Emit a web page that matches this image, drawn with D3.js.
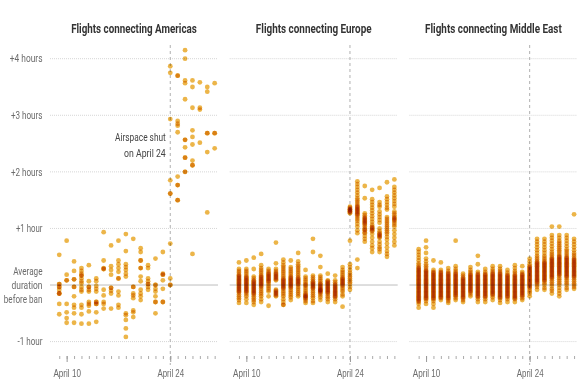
<!DOCTYPE html>
<html><head><meta charset="utf-8">
<script src="https://cdn.jsdelivr.net/npm/d3@7"></script>
<style>
body{margin:0;background:#fff;}
svg{display:block;font-family:Roboto,"Liberation Sans",sans-serif;}
</style></head><body>
<svg id="c" width="585" height="390"></svg>
<script>
// ---- data (minutes relative to average duration before ban) ----
const days = [9,10,11,12,13,14,15,16,17,18,19,20,21,22,23,24,25,26,27,28,29,30];
const panelTitles = ["Flights connecting Americas","Flights connecting Europe","Flights connecting Middle East"];
const hourTicks = [-1,1,2,3,4];
const hourLabels = ["-1 hour","+1 hour","+2 hours","+3 hours","+4 hours"];
const zeroLabel = ["Average","duration","before ban"];
const dateTicks = [10,24];
const dateLabels = ["April 10","April 24"];
const banDay = 24;
const annotation = ["Airspace shut","on April 24"];

const americas = [
  [32,1,1,-2,-2,-5,-9,-9,-9,-20,-31],
  [47,11,5,5,-20,-29,-35,-40],
  [25,15,6,6,-2,-2,-12,-21,-24,-30,-40],
  [18,15,12,10,10,7,4,2,-2,-5,-7,-21,-24,-31,-41],
  [21,4,-2,-2,-5,-7,-18,-20,-22,-28,-41],
  [7,4,-1,-4,-7,-18,-18,-20,-20,-29,-39],
  [56,26,18,17,17,-5,-11,-18,-20,-25],
  [42,20,16,11,-3,-3,-6,-9,-25],
  [47,26,22,18,14,7,7,-7,-11,-21,-24],
  [54,36,22,19,16,12,9,-30,-32,-37,-46,-55],
  [49,-2,-2,-9,-11,-14,-27,-29,-34],
  [39,35,26,26,18,18,9,4,-5,-9,-12,-16],
  [21,18,7,4,1,1,-2,-5],
  [28,0,0,-4,-7,-12,-18,-18,-30],
  [35,12,11,11,5,-4,-18,-18],
  [232,225,176,111,97,97,44,7,0,0],
  [222,222,174,171,169,162,115,106,106,90,90],
  [249,240,217,214,197,154,154,146,135,135,120,120],
  [217,210,188,164,157,149,132,127,127,33],
  [215,188,186,151],
  [210,205,161,161,141,77],
  [214,161,161,145]
];

const europe = [
  [24,17,15,13,11,10,9,8,7,6,5,4,3,2,1,0,-1,-2,-3,-4,-5,-6,-7,-8,-10,-12,-14,-16,-19],
  [26,17,15,13,11,9,8,7,6,5,4,3,2,1,0,-1,-2,-3,-4,-5,-6,-7,-8,-10,-12,-15,-19],
  [29,17,9,7,5,4,3,2,1,0,-1,-2,-3,-4,-5,-6,-7,-8,-9,-10,-12,-14,-16,-18,-21],
  [33,21,18,16,14,12,10,9,8,7,6,5,4,3,2,1,0,-1,-2,-4,-6,-8,-10,-12,-15,-18],
  [17,15,13,12,11,10,9,8,7,6,5,4,3,1,-1,-3,-5,-7,-12,-22],
  [45,23,17,15,13,12,11,10,9,8,7,6,5,-5,-6,-7,-8,-9,-10,-11,-12],
  [27,24,21,19,17,15,13,11,9,7,6,5,4,3,2,1,0,-1,-2,-3,-4,-6,-8,-10,-12,-15,-18,-21,-21],
  [26,19,17,15,13,11,9,8,7,6,5,4,3,2,1,0,-1,-2,-3,-5,-7,-9,-11,-13,-16],
  [34,25,22,20,18,16,14,12,10,8,7,6,5,4,3,2,1,0,-2,-4,-6,-8,-10,-12],
  [16,9,7,5,3,1,0,-1,-3,-5,-7,-9,-10,-11,-12,-12,-13,-14,-15,-17,-19],
  [49,35,10,8,6,4,3,2,1,0,-1,-2,-3,-4,-6,-8,-10,-12,-14,-17,-19],
  [31,19,10,8,6,4,2,1,0,-1,-2,-3,-4,-5,-5,-6,-6,-7,-8,-9,-11,-13,-16],
  [12,5,4,3,2,1,0,-1,-2,-3,-4,-5,-6,-7,-8,-9,-11,-13,-15,-18],
  [10,5,3,1,0,-1,-2,-3,-4,-5,-6,-7,-8,-9,-10,-11,-12,-13,-15,-18],
  [19,16,14,12,10,8,7,6,5,4,3,2,1,0,-1,-3,-5,-7,-10,-12,-23],
  [83,82,81,80,80,79,78,78,77,76,47,22,19,16,13,11,9,7,5,3,1,-2,-5],
  [110,107,104,101,98,95,92,90,88,86,84,83,82,81,80,79,78,77,76,75,74,72,70,68,65,62,58,55,27,18],
  [105,92,76,74,72,71,70,69,68,67,66,65,64,62,60,59,58,56,55,52,49,46],
  [101,91,88,85,82,79,76,73,70,67,64,62,61,60,59,58,57,54,50,46,42,39,35],
  [103,88,85,83,78,75,72,69,66,60,57,55,54,53,52,51,50,46,43,40,38,35],
  [109,94,91,88,85,82,80,72,70,68,66,64,62,60,58,56,54,51,48,44,40,36,33,30],
  [112,104,101,98,95,92,89,86,83,78,76,74,72,71,70,69,68,66,64,62,58,54,50,46,42]
];

const middleEast = [
  [38,35,32,29,26,23,21,19,18,17,16,15,14,13,12,11,10,9,8,7,6,5,4,3,2,1,0,-1,-2,-3,-4,-5,-6,-7,-8,-9,-10,-11,-12,-13,-14,-15,-16,-17,-18,-20,-24],
  [47,40,34,28,25,22,20,18,16,15,14,13,12,11,10,9,8,7,6,5,4,3,2,1,0,-1,-2,-3,-4,-5,-6,-7,-8,-9,-10,-11,-12,-13,-14,-15,-17,-20],
  [26,16,14,13,12,11,10,9,8,7,6,5,4,3,2,1,0,-1,-2,-3,-4,-5,-6,-7,-8,-9,-10,-11,-12,-13,-14,-15,-17,-20,-24],
  [24,16,14,13,12,11,10,9,8,7,6,5,4,3,2,1,0,-1,-2,-3,-4,-5,-6,-7,-8,-9,-10,-11,-12,-13,-14,-16],
  [18,15,13,12,11,10,9,8,7,6,5,4,3,2,1,0,-1,-2,-3,-4,-5,-6,-7,-8,-9,-10,-11,-12,-13,-14,-15,-17,-19],
  [47,20,17,15,13,12,11,10,9,8,7,6,5,4,3,2,1,0,-1,-2,-3,-4,-5,-6,-7,-8,-9,-10,-11,-12,-14,-16],
  [12,10,8,7,6,5,4,3,2,1,0,-1,-2,-3,-4,-5,-6,-7,-8,-9,-10,-11,-12,-13,-14,-16,-18],
  [19,16,14,12,11,10,9,8,7,6,5,4,3,2,1,0,-1,-2,-3,-4,-5,-6,-7,-8,-10,-12],
  [31,22,14,12,11,10,9,8,7,6,5,4,3,2,1,0,-1,-2,-3,-4,-5,-6,-7,-8,-9,-10,-11,-12,-13,-15,-18],
  [17,14,12,11,10,9,8,7,6,5,4,3,2,1,0,-1,-2,-3,-4,-5,-6,-7,-8,-9,-10,-11,-12,-13,-15,-18],
  [20,17,15,13,12,11,10,9,8,7,6,5,4,3,2,1,0,-1,-2,-3,-4,-5,-6,-7,-8,-9,-10,-11,-13,-16],
  [20,17,15,13,12,11,10,9,8,7,6,5,4,3,2,1,0,-1,-2,-3,-4,-5,-6,-7,-8,-9,-10,-11,-12,-13,-14,-16,-19],
  [16,13,11,10,9,8,7,6,5,4,3,2,1,0,-1,-2,-3,-4,-5,-6,-7,-8,-9,-10,-11,-12,-13,-15,-18],
  [21,18,15,13,11,10,9,8,7,6,5,4,3,2,1,0,-1,-2,-3,-4,-5,-6,-7,-8,-9,-10,-11,-12,-13,-14,-15,-18],
  [20,14,12,11,10,9,8,7,6,5,4,3,2,1,0,-1,-2,-3,-4,-5,-6,-7,-8,-9,-10,-11,-12,-14,-16],
  [28,25,22,20,19,18,17,16,15,14,13,12,11,10,9,8,7,6,5,4,3,2,1,0,-1,-2,-3,-5,-7,-9,-12],
  [49,46,43,40,37,34,31,29,27,25,24,23,22,21,20,19,18,17,16,15,14,13,12,11,10,9,8,7,6,5,4,3,2,0,-2,-5],
  [49,46,43,40,37,34,31,29,27,25,24,23,22,21,20,19,18,17,16,15,14,13,12,11,10,9,8,7,6,5,4,2,0,-3,-5],
  [62,53,50,47,44,41,38,35,33,31,29,28,27,26,25,24,23,22,21,20,19,18,17,16,15,14,13,12,11,10,9,8,7,5,3,1,-1,-4,-6,-9],
  [62,53,50,47,45,43,41,39,37,35,33,31,30,29,28,27,26,25,24,23,22,21,20,19,18,17,16,15,14,13,12,11,10,8,6,4,2,0,-3,-6,-9,-12],
  [53,50,47,44,41,38,36,34,32,30,29,28,27,26,25,24,23,22,21,20,19,18,17,16,15,14,13,12,11,10,9,8,6,4,2,0,-3,-5],
  [75,49,46,43,40,37,34,32,30,28,27,26,25,24,23,22,21,20,19,18,17,16,15,14,13,12,11,10,9,8,6,4,2,0,-2,-4]
];

const panelData = [americas, europe, middleEast];

// ---- layout / style ----
const titleWidths = [125.7, 115.7, 136.7];
const hourLabelWidths = [25, 26.6, 31.6, 31.6, 32.7];
const zeroLabelWidths = [29.3, 31, 38.7];
const dateLabelWidths = [27.5, 26.7];
const annotationWidths = [50.7, 41.7];

const svg = d3.select("#c");
svg.append("rect").attr("width",585).attr("height",390).attr("fill","#fff");

const y = d3.scaleLinear().domain([-60,240]).range([341.6,58.7]);
const panelW = 168;
const panelLeft = [50, 229.7, 409.4];
const x = d3.scaleLinear().domain([7.75,30.45]).range([0,panelW]);
const dotColor = "#eaad35";

function fit(sel, w){ sel.attr("textLength", w).attr("lengthAdjust","spacingAndGlyphs"); }

// y labels
const yl = svg.append("g").attr("font-size",10.5).attr("fill","#6b6b6b").attr("text-anchor","end");
hourTicks.forEach((h,i)=>{
  yl.append("text").attr("x",42.5).attr("y",y(h*60)).attr("dy","0.35em").text(hourLabels[i])
    .call(fit, hourLabelWidths[i]);
});
zeroLabel.forEach((t,i)=>{
  yl.append("text").attr("x",42.5).attr("y",y(0)+(i-1)*14).attr("dy","0.35em").text(t)
    .call(fit, zeroLabelWidths[i]);
});

panelData.forEach((data,pi)=>{
  const g = svg.append("g").attr("transform",`translate(${panelLeft[pi]},0)`);
  // grid
  g.selectAll("line.grid").data(hourTicks).join("line")
    .attr("x1",0).attr("x2",panelW)
    .attr("y1",h=>y(h*60)).attr("y2",h=>y(h*60))
    .attr("stroke","#d6d6d6").attr("stroke-dasharray","1,1");
  g.append("line").attr("x1",0).attr("x2",panelW).attr("y1",y(0)).attr("y2",y(0))
    .attr("stroke","#bdbdbd").attr("stroke-width",1);
  // ban line
  g.append("line").attr("x1",x(banDay)).attr("x2",x(banDay)).attr("y1",45).attr("y2",365)
    .attr("stroke","#b0b0b0").attr("stroke-dasharray","3,3");
  // axis minor
  const ax = g.append("g").attr("transform","translate(0,356)")
    .call(d3.axisBottom(x).tickValues(days).tickSize(3).tickFormat(""));
  ax.select(".domain").remove();
  ax.selectAll(".tick line").attr("stroke","#aaa");
  const ax2 = g.append("g").attr("transform","translate(0,356)")
    .call(d3.axisBottom(x).tickValues(dateTicks).tickSize(6)
      .tickFormat((d,i)=>dateLabels[i]));
  ax2.select(".domain").remove();
  ax2.selectAll(".tick line").attr("stroke","#999");
  ax2.selectAll(".tick text").attr("font-family","inherit").attr("font-size",10.5)
    .attr("fill","#6b6b6b").attr("y",21).attr("dy",0)
    .each(function(d,i){ d3.select(this).call(fit, dateLabelWidths[i]); });
  // dots
  const pts = [];
  data.forEach((col,di)=>col.forEach(v=>pts.push({d:days[di],v})));
  g.append("g").selectAll("circle").data(pts).join("circle")
    .attr("cx",p=>x(p.d)).attr("cy",p=>y(p.v)).attr("r",2.4)
    .attr("fill",dotColor).attr("fill-opacity",0.9)
    .style("mix-blend-mode","multiply");
  // title
  g.append("text").attr("x",panelW/2).attr("y",33).attr("text-anchor","middle")
    .attr("font-size",12).attr("font-weight","bold").attr("fill","#333").text(panelTitles[pi])
    .call(fit, titleWidths[pi]);
  if(pi===0){
    annotation.forEach((t,i)=>{
      g.append("text").attr("x",x(banDay)-4.5).attr("y",141+i*16).attr("text-anchor","end")
        .attr("font-size",10.5).attr("fill","#444").text(t).call(fit, annotationWidths[i]);
    });
  }
});
</script>
</body></html>
